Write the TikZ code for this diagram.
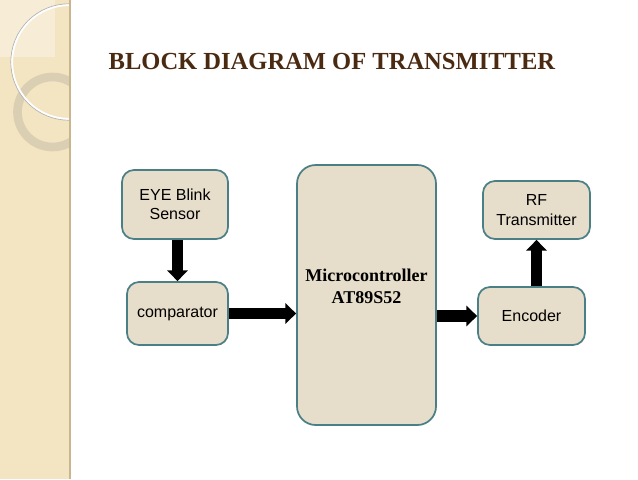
\documentclass[tikz,border=0pt]{standalone}
\usepackage{fontspec}
\setmainfont{Liberation Serif}
\newfontfamily\boxfont{Liberation Sans}
\usepackage{xcolor}
\usetikzlibrary{arrows.meta,calc}
\definecolor{strip}{HTML}{F3E4C2}
\definecolor{stripedge}{HTML}{C9B58E}
\definecolor{ringgray}{HTML}{D9CDB2}
\definecolor{titlebrown}{HTML}{4B2A12}
\definecolor{boxfill}{HTML}{E6DDCB}
\definecolor{boxedge}{HTML}{4A7F86}
\begin{document}
\begin{tikzpicture}[x=0.75pt,y=-0.75pt,>=Latex,
  block/.style={draw=boxedge,fill=boxfill,line width=1.3pt,rounded corners=9pt,
    align=center,font=\boxfont\fontsize{12}{14.5}\selectfont,inner sep=0pt},
  fatarrow/.style={line width=8.5pt,-{Triangle[length=8pt,width=15pt]}}]
  \useasboundingbox (0,0) rectangle (638,479);
  \fill[white] (0,0) rectangle (638,479);
  \fill[strip] (0,0) rectangle (70,479);
  \fill[white,opacity=.35] (0,0) rectangle (55,57);
  \begin{scope}
    \clip (0,0) rectangle (70,479);
    \draw[ringgray,line width=6.5pt,opacity=.9] (52.5,112) circle (35);
    \draw[white,line width=1.6pt] (69,62) circle (57);
    \draw[gray!60,line width=.5pt] (69,62) circle (58.2);
  \end{scope}
  \draw[stripedge,line width=1.2pt] (70,0) -- (70,479);

  \node[anchor=west,text=titlebrown,font=\bfseries\fontsize{18.4}{22}\selectfont] (title) at (104,61) {BLOCK DIAGRAM OF TRANSMITTER};

  \node[block,minimum width=79.5pt,minimum height=51.75pt] (sensor) at (175,204.5) {EYE Blink\\Sensor};
  \node[block,minimum width=75.75pt,minimum height=47.25pt] (comp) at (177.5,313.5) {comparator};
  \node[block,minimum width=104.25pt,minimum height=195pt,rounded corners=14pt] (micro) at (366.5,295) {};
  \node[align=center,font=\bfseries\fontsize{13.5}{16.5}\selectfont] (mclabel) at ($(micro.center)+(0,-9)$) {Microcontroller\\AT89S52};
  \node[block,minimum width=80.25pt,minimum height=43.5pt] (rf) at (536.5,210) {RF\\Transmitter};
  \node[block,minimum width=80.25pt,minimum height=43.5pt] (enc) at (531.5,316) {Encoder};

  \draw[fatarrow] (comp.north |- sensor.south) -- (comp.north);
  \draw[fatarrow] (comp.east) -- (comp.east -| micro.west);
  \draw[fatarrow] (micro.east |- enc.west) -- (enc.west);
  \draw[fatarrow] (rf.south |- enc.north) -- (rf.south);
\end{tikzpicture}
\end{document}
